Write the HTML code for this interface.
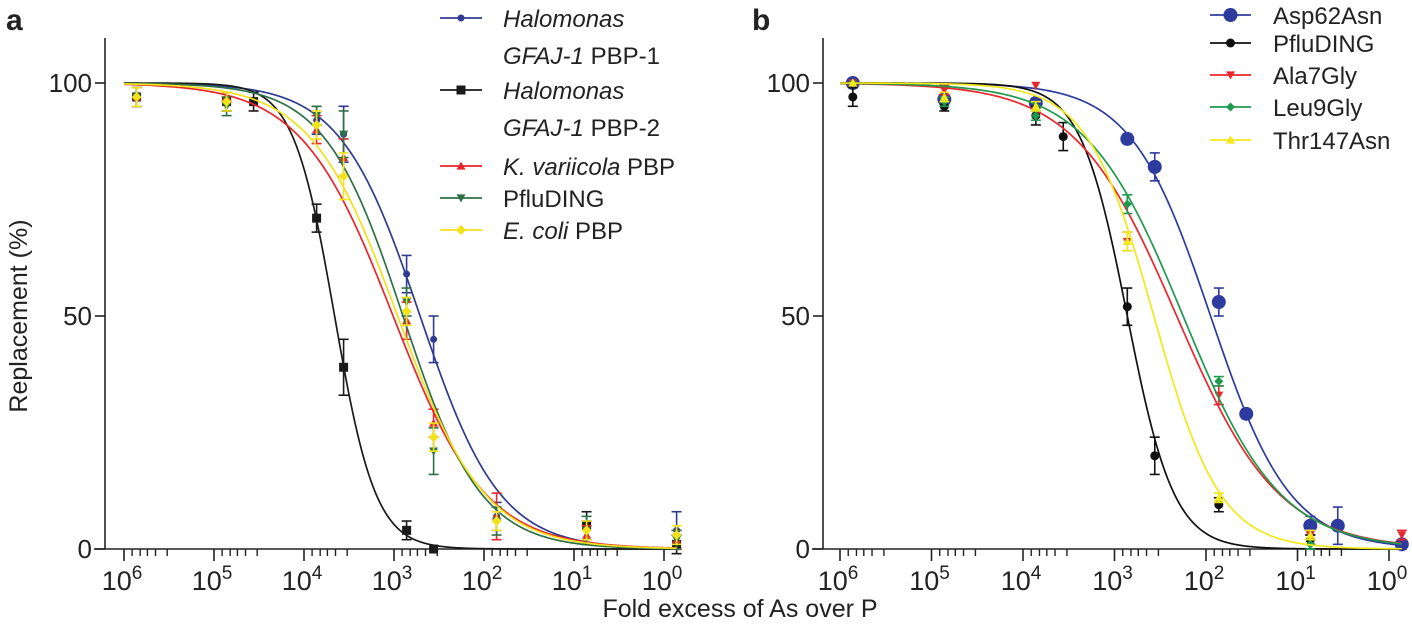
<!DOCTYPE html>
<html><head><meta charset="utf-8">
<style>
html,body{margin:0;padding:0;background:#fff;}
svg{display:block;font-family:"Liberation Sans",Arial,sans-serif;}
</style></head>
<body>
<svg id="fig" width="1412" height="624" viewBox="0 0 1412 624" xmlns="http://www.w3.org/2000/svg"></svg>
<script>
// ---------- Data ----------
const decadeLabels = ["6","5","4","3","2","1","0"];
const yTicks = [0, 50, 100];

// Panel a
const xA = [5.86, 4.86, 4.56, 3.86, 3.56, 2.86, 2.56, 1.86, 0.86, -0.14];
const aBlue   = [97, 96, null, 92, 89, 59, 45, 7, 4, 4];
const aBlueErr= [2, 2, 0, 3, 6, 4, 5, 3, 2, 4];
const aBlack  = [97, 96, 96, 71, 39, 4, 0, null, 5, 1];
const aBlackErr=[2, 2, 2, 3, 6, 2, 0, 0, 3, 2];
const aRed    = [97, 97, null, 90, 84, 49, 27, 7, 3, 2];
const aRedErr = [2, 1, 0, 3, 4, 4, 3, 5, 2, 2];
const aGreen  = [97, 95, null, 93, 89, 53, 21, 6, 4, 2];
const aGreenErr=[2, 2, 0, 2, 5, 3, 5, 3, 3, 2];
const aYellow = [97, 96, null, 91, 80, 51, 24, 6, 4, 3];
const aYellowErr=[2, 2, 0, 3, 5, 3, 3, 2, 2, 2];
const aNames = ["Halomonas GFAJ-1 PBP-1","Halomonas GFAJ-1 PBP-2","K. variicola PBP","PfluDING","E. coli PBP"];
const aEC50 = [2.71, 3.66, 3.01, 2.90, 2.96];
const aHill = [0.98, 1.9, 0.85, 1.0, 0.9];

// Panel b
const xB = [5.86, 4.86, 3.86, 3.56, 2.86, 2.56, 1.86, 1.56, 0.86, 0.56, -0.14];
const bBlue   = [100, 96.5, 95.7, null, 88, 82, 53, 29, 5, 5, 1];
const bBlueErr= [0, 1, 1, 0, 1, 3, 3, 1, 2, 4, 1];
const bBlack  = [97, 95, 93, 88.5, 52, 20, 9.5, null, 2, null, null];
const bBlackErr=[2, 1, 2, 3, 4, 4, 1.5, 0, 1, 0, 0];
const bRed    = [100, 98.5, 99.5, null, 66, null, 33, null, 3, null, 3];
const bRedErr = [0, 1, 0, 0, 2, 0, 2, 0, 1, 0, 1];
const bGreen  = [100, 96, 93, null, 74, null, 36, null, 1, null, null];
const bGreenErr=[0, 1, 1, 0, 2, 0, 1, 0, 1, 0, 0];
const bYellow = [100, 97, 95, null, 66, null, 11, null, 3, null, null];
const bYellowErr=[0, 1, 1, 0, 2, 0, 1, 0, 1, 0, 0];
const bNames = ["Asp62Asn","PfluDING","Ala7Gly","Leu9Gly","Thr147Asn"];
const bEC50 = [1.95, 2.86, 2.32, 2.25, 2.57];
const bHill = [1.0, 1.7, 0.78, 0.82, 1.2];

// ---------- Helpers ----------
const NS = "http://www.w3.org/2000/svg";
const svg = document.getElementById("fig");
function mk(tag, attrs, parent){
  const e = document.createElementNS(NS, tag);
  for (const k in attrs) e.setAttribute(k, attrs[k]);
  (parent||svg).appendChild(e);
  return e;
}
function yOf(v){ return 549 - v*4.66; }
function logistic(L, c, h){ return 100/(1+Math.pow(10, h*(c-L))); }

function marker(g, shape, x, y, col, size){
  let m;
  if (shape==="circle") m = mk("circle",{cx:x,cy:y,r:size,fill:col},g);
  else if (shape==="square") m = mk("rect",{x:x-size,y:y-size,width:2*size,height:2*size,fill:col},g);
  else if (shape==="up") m = mk("polygon",{points:`${x},${y-size} ${x-size},${y+size*0.8} ${x+size},${y+size*0.8}`,fill:col},g);
  else if (shape==="down") m = mk("polygon",{points:`${x},${y+size} ${x-size},${y-size*0.8} ${x+size},${y-size*0.8}`,fill:col},g);
  else m = mk("polygon",{points:`${x},${y-size} ${x+size},${y} ${x},${y+size} ${x-size},${y}`,fill:col},g);
  return m;
}

function panel(cfg){
  const xOf = L => cfg.x0 + (6-L)*cfg.dec;
  const g = mk("g",{});
  
  
  const ya = mk("line",{x1:cfg.yAxisX,y1:38,x2:cfg.yAxisX,y2:549,stroke:"#222","stroke-width":1.6},g);
  
  
  const xa = mk("line",{x1:cfg.yAxisX-11,y1:549,x2:cfg.xEnd,y2:549,stroke:"#222","stroke-width":1.6},g);
  
  
  yTicks.forEach(v=>{
    const y = yOf(v);
    mk("line",{x1:cfg.yAxisX-10,y1:y,x2:cfg.yAxisX,y2:y,stroke:"#222","stroke-width":1.6},g);
    const t = mk("text",{x:cfg.yAxisX-13,y:y+9,"text-anchor":"end","font-size":26,fill:"#222"},g);
    t.textContent = v;
    
    
  });
  const minor = [0.09,0.18,0.26,0.35,0.48];
  decadeLabels.forEach((lab,i)=>{
    const L = +lab;
    const x = xOf(L);
    mk("line",{x1:x,y1:549,x2:x,y2:561,stroke:"#222","stroke-width":1.6},g);
    if (L>0) minor.forEach(f=>{
      const xm = x + f*cfg.dec;
      mk("line",{x1:xm,y1:549,x2:xm,y2:556,stroke:"#222","stroke-width":1.4},g);
    });
    const t = mk("text",{x:x-2,y:590,"font-size":27,fill:"#222","text-anchor":"middle"},g);
    const a = mk("tspan",{},t);
    a.textContent = "10";
    const s = mk("tspan",{dy:-11,"font-size":19},t);
    s.textContent = lab;
    
    
  });
  cfg.series.forEach((s,si)=>{
    const sg = mk("g",{},g);
    
    
    let d = "";
    for (let k=0;k<=300;k++){
      const L = 6.0 - k*(6.0-cfg.Lmin)/300;
      const v = logistic(L, cfg.ec50[si], cfg.hill[si]);
      d += (k?"L":"M")+xOf(L).toFixed(2)+","+yOf(v).toFixed(2);
    }
    const p = mk("path",{d:d,fill:"none",stroke:s.col,"stroke-width":1.7},sg);
    
    
    cfg.xs.forEach((L,j)=>{
      const v = s.vals[j];
      if (v===null || v===undefined) return;
      const x = xOf(L), y = yOf(v), e = s.err[j]*4.66;
      if (e>0){
        mk("line",{x1:x,y1:y-e,x2:x,y2:y+e,stroke:s.col,"stroke-width":1.6},sg);
        mk("line",{x1:x-5,y1:y-e,x2:x+5,y2:y-e,stroke:s.col,"stroke-width":1.6},sg);
        mk("line",{x1:x-5,y1:y+e,x2:x+5,y2:y+e,stroke:s.col,"stroke-width":1.6},sg);
      }
      const m = marker(sg, s.shape, x, y, s.col, s.size);
      
      
    });
  });
  return g;
}

const colA = ["#2e3b91","#1a1a1a","#e8262b","#2f7147","#f2e21a"];
panel({id:"panel-a", x0:124, dec:90, yAxisX:105, xEnd:680, Lmin:-0.14, xs:xA, ec50:aEC50, hill:aHill,
  series:[
    {key:"pbp1",vals:aBlue,err:aBlueErr,col:colA[0],shape:"circle",size:3.5},
    {key:"pbp2",vals:aBlack,err:aBlackErr,col:colA[1],shape:"square",size:4.5},
    {key:"kvar",vals:aRed,err:aRedErr,col:colA[2],shape:"up",size:4.5},
    {key:"pfluding",vals:aGreen,err:aGreenErr,col:colA[3],shape:"down",size:4.5},
    {key:"ecoli",vals:aYellow,err:aYellowErr,col:colA[4],shape:"diamond",size:5}
  ]});
const colB = ["#2e3b9e","#111111","#e8262b","#1f9a4f","#f2e81a"];
panel({id:"panel-b", x0:840, dec:91.5, yAxisX:823, xEnd:1406, Lmin:-0.14, xs:xB, ec50:bEC50, hill:bHill,
  series:[
    {key:"asp62asn",vals:bBlue,err:bBlueErr,col:colB[0],shape:"circle",size:7},
    {key:"pfluding",vals:bBlack,err:bBlackErr,col:colB[1],shape:"circle",size:4.5},
    {key:"ala7gly",vals:bRed,err:bRedErr,col:colB[2],shape:"down",size:4.5},
    {key:"leu9gly",vals:bGreen,err:bGreenErr,col:colB[3],shape:"diamond",size:4.5},
    {key:"thr147asn",vals:bYellow,err:bYellowErr,col:colB[4],shape:"up",size:4.5}
  ]});

// ---------- Legends ----------
function legendLine(x1,x2,y,col,shape,size,name){
  const g = mk("g",{});
  
  
  mk("line",{x1:x1,y1:y,x2:x2,y2:y,stroke:col,"stroke-width":1.7},g);
  marker(g,shape,(x1+x2)/2,y,col,size);
  return g;
}
function legText(x,y,parts,name){
  const t = mk("text",{x:x,y:y,"font-size":24,fill:"#222"});
  parts.forEach(p=>{
    const s = mk("tspan",{"font-style":p[1]?"italic":"normal"},t);
    s.textContent = p[0];
  });
  
  
}
legendLine(440,482,18,colA[0],"circle",3.5,"legend-entry-pbp1");
legText(503,27,[["Halomonas",1]],"legend-label-pbp1");
legText(503,64,[["GFAJ-1",1],[" PBP-1",0]],"legend-label-pbp1-line2");
legendLine(440,482,90,colA[1],"square",4.5,"legend-entry-pbp2");
legText(503,99,[["Halomonas",1]],"legend-label-pbp2");
legText(503,136,[["GFAJ-1",1],[" PBP-2",0]],"legend-label-pbp2-line2");
legendLine(440,482,166,colA[2],"up",4.5,"legend-entry-kvar");
legText(503,175,[["K. variicola",1],[" PBP",0]],"legend-label-kvar");
legendLine(440,482,198,colA[3],"down",4.5,"legend-entry-pfluding-a");
legText(503,207,[["PfluDING",0]],"legend-label-pfluding-a");
legendLine(440,482,230,colA[4],"diamond",5,"legend-entry-ecoli");
legText(503,239,[["E. coli",1],[" PBP",0]],"legend-label-ecoli");

const bLegY = [15,43,75,107,140];
const bShapes = [["circle",7],["circle",4.5],["down",4.5],["diamond",4.5],["up",4.5]];
bNames.forEach((n,i)=>{
  legendLine(1210,1251,bLegY[i],colB[i],bShapes[i][0],bShapes[i][1],"legend-entry-"+n.toLowerCase());
  legText(1273,bLegY[i]+9,[[n,0]],"legend-label-"+n.toLowerCase());
});

// ---------- Titles ----------
function txt(x,y,s,attrs,name){
  const t = mk("text",Object.assign({x:x,y:y,fill:"#222"},attrs));
  t.textContent = s;
  
  
  return t;
}
txt(6,30,"a",{"font-size":30,"font-weight":"bold"},"panel-a-label");
txt(752,30,"b",{"font-size":30,"font-weight":"bold"},"panel-b-label");
txt(27,316,"Replacement (%)",{"font-size":25,"text-anchor":"middle",transform:"rotate(-90 27 316)"},"y-axis-title");
txt(740,617,"Fold excess of As over P",{"font-size":25,"text-anchor":"middle"},"x-axis-title");
</script>
</body></html>
